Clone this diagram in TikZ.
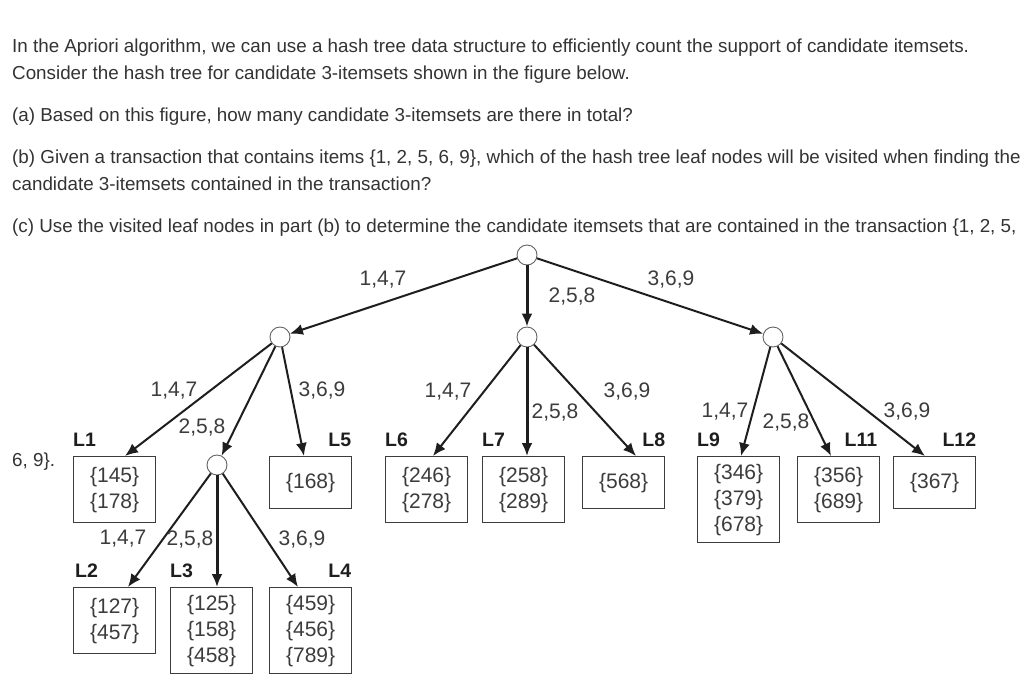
\documentclass[tikz,border=0pt]{standalone}
\usepackage{fontspec}
\setmainfont{Liberation Sans}
\usetikzlibrary{positioning,arrows.meta}
\definecolor{qText}{RGB}{51,51,51}
\definecolor{htGray}{RGB}{60,60,60}
\definecolor{htLine}{RGB}{30,30,30}
\tikzset{
    question/.style={anchor=base west, inner sep=0pt, text=qText,
                     font=\fontsize{18.8}{22}\selectfont},
    hash node/.style={circle, draw=htGray!80, fill=white, line width=0.9pt,
                      minimum size=20pt, inner sep=0pt},
    leaf/.style={rectangle, draw=htGray, line width=1.3pt, fill=white, text=htGray,
                 align=center, anchor=north west, minimum width=82pt,
                 font=\fontsize{21}{26}\selectfont},
    leaf name/.style={inner sep=0pt, text=htLine, font=\bfseries\fontsize{19.5}{20}\selectfont},
    branch/.style={inner sep=0pt, text=htGray, font=\fontsize{21}{24}\selectfont},
    edge/.style={-{Latex[length=13pt, width=11pt]}, line width=2pt, draw=htLine},
    thick edge/.style={edge, line width=3pt}
}
\begin{document}
\begin{tikzpicture}[x=1pt, y=-1pt]
  \fill[white] (0,0) rectangle (1024,686);

  % Question text
  \node[question] (q1) at (12,52) {In the Apriori algorithm, we can use a hash tree data structure to efficiently count the support of candidate itemsets.};
  \node[question] (q2) at (12,79) {Consider the hash tree for candidate 3-itemsets shown in the figure below.};
  \node[question] (qa) at (12,121) {(a) Based on this figure, how many candidate 3-itemsets are there in total?};
  \node[question] (qb) at (12,163) {(b) Given a transaction that contains items \{1, 2, 5, 6, 9\}, which of the hash tree leaf nodes will be visited when finding the};
  \node[question] (qb2) at (12,190) {candidate 3-itemsets contained in the transaction?};
  \node[question] (qc) at (12,232) {(c) Use the visited leaf nodes in part (b) to determine the candidate itemsets that are contained in the transaction \{1, 2, 5,};
  \node[question] (qc2) at (12,466) {6, 9\}.};

  % Hash nodes
  \node[hash node] (root) at (527,255) {};
  \node[hash node] (h1) at (280,337) {};
  \node[hash node] (h2) at (527,337) {};
  \node[hash node] (h3) at (773,337) {};
  \node[hash node] (h12) at (217,465) {};

  % Leaves
  \node[leaf, minimum height=66pt] (l1) at (73,456) {\{145\}\\\{178\}};
  \node[leaf, minimum height=52pt] (l5) at (269,456) {\{168\}};
  \node[leaf, minimum height=66pt] (l6) at (385,456) {\{246\}\\\{278\}};
  \node[leaf, minimum height=66pt] (l7) at (482,456) {\{258\}\\\{289\}};
  \node[leaf, minimum height=52pt] (l8) at (582,456) {\{568\}};
  \node[leaf, minimum height=86pt] (l9) at (697,456) {\{346\}\\\{379\}\\\{678\}};
  \node[leaf, minimum height=66pt] (l11) at (797,456) {\{356\}\\\{689\}};
  \node[leaf, minimum height=52pt] (l12) at (893,456) {\{367\}};
  \node[leaf, minimum height=66pt] (l2) at (73,587) {\{127\}\\\{457\}};
  \node[leaf, minimum height=86pt] (l3) at (170,587) {\{125\}\\\{158\}\\\{458\}};
  \node[leaf, minimum height=86pt] (l4) at (269,587) {\{459\}\\\{456\}\\\{789\}};

  % Leaf names
  \node[leaf name, above right=9pt and 0pt of l1.north west] (n1) {L1};
  \node[leaf name, above left=9pt and 1pt of l5.north east] (n5) {L5};
  \node[leaf name, above right=9pt and 0pt of l6.north west] (n6) {L6};
  \node[leaf name, above right=9pt and 0pt of l7.north west] (n7) {L7};
  \node[leaf name, above left=9pt and 0pt of l8.north east] (n8) {L8};
  \node[leaf name, above right=9pt and 0pt of l9.north west] (n9) {L9};
  \node[leaf name, above left=9pt and 3pt of l11.north east] (n11) {L11};
  \node[leaf name, above left=9pt and 0pt of l12.north east] (n12) {L12};
  \node[leaf name, above right=9pt and 2pt of l2.north west] (n2) {L2};
  \node[leaf name, above right=9pt and 0pt of l3.north west] (n3) {L3};
  \node[leaf name, above left=9pt and 1pt of l4.north east] (n4) {L4};

  % Edges
  \draw[edge] (root) -- (h1);
  \draw[thick edge] (root) -- (h2);
  \draw[edge] (root) -- (h3);
  \draw[edge] (h1) -- ([xshift=52pt]l1.north west);
  \draw[edge] (h1) -- (h12);
  \draw[edge] (h1) -- ([xshift=35pt]l5.north west);
  \draw[edge] (h2) -- ([xshift=48pt]l6.north west);
  \draw[thick edge] (h2) -- ([xshift=45pt]l7.north west);
  \draw[edge] (h2) -- ([xshift=54pt]l8.north west);
  \draw[edge] (h3) -- ([xshift=44pt]l9.north west);
  \draw[edge] (h3) -- ([xshift=34pt]l11.north west);
  \draw[edge] (h3) -- ([xshift=32pt]l12.north west);
  \draw[edge] (h12) -- ([xshift=55pt]l2.north west);
  \draw[thick edge] (h12) -- ([xshift=47pt]l3.north west);
  \draw[edge] (h12) -- ([xshift=29pt]l4.north west);

  % Branch labels
  \node[branch] (b0a) at (383,280) {1,4,7};
  \node[branch] (b0b) at (572,297) {2,5,8};
  \node[branch] (b0c) at (671,280) {3,6,9};
  \node[branch] (b1a) at (174,391) {1,4,7};
  \node[branch] (b1b) at (202,428) {2,5,8};
  \node[branch] (b1c) at (322,391) {3,6,9};
  \node[branch] (b2a) at (448,392) {1,4,7};
  \node[branch] (b2b) at (555,413) {2,5,8};
  \node[branch] (b2c) at (627,392) {3,6,9};
  \node[branch] (b3a) at (725,412) {1,4,7};
  \node[branch] (b3b) at (786,423) {2,5,8};
  \node[branch] (b3c) at (907,412) {3,6,9};
  \node[branch] (b4a) at (123,539) {1,4,7};
  \node[branch] (b4b) at (190,539) {2,5,8};
  \node[branch] (b4c) at (302,539) {3,6,9};
\end{tikzpicture}
\end{document}
